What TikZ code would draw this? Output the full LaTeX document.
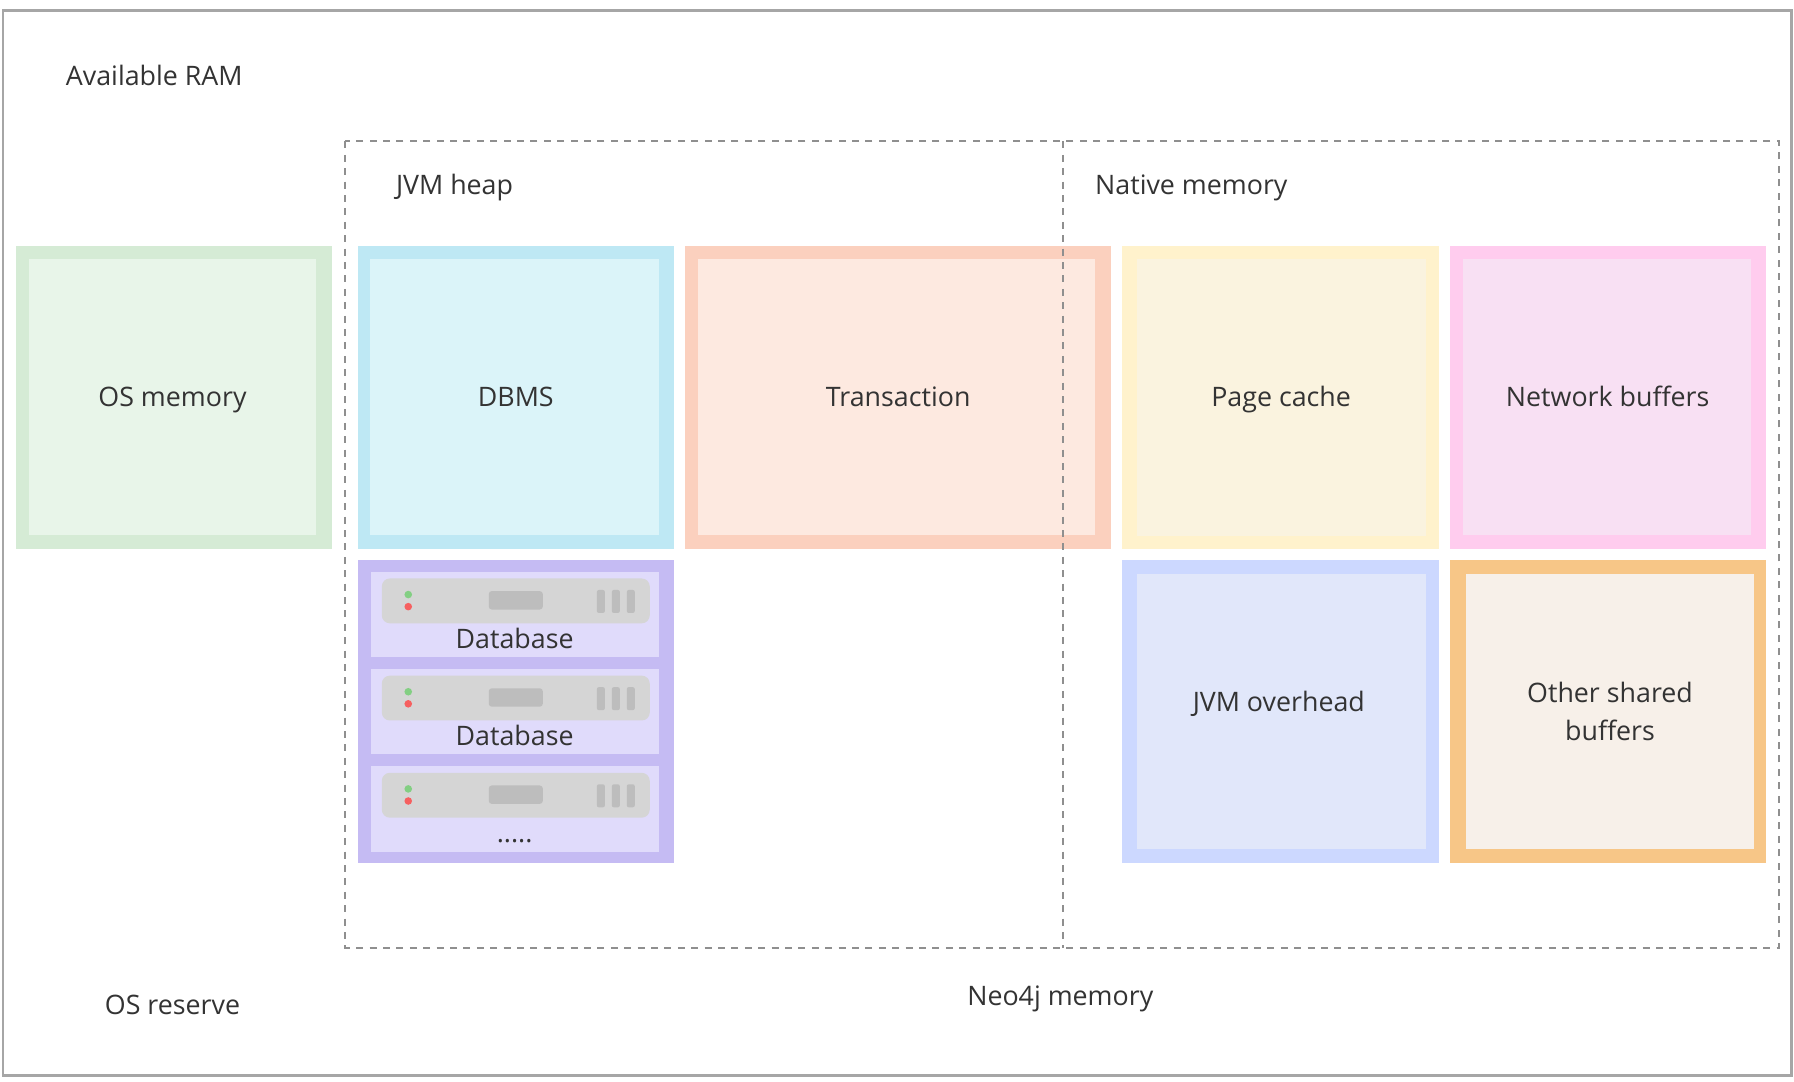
\documentclass[tikz,border=0pt]{standalone}
\usepackage{fontspec}
\setmainfont{Open Sans}
\definecolor{txt}{HTML}{333333}
\definecolor{framec}{HTML}{A6A6A6}
\definecolor{dashc}{HTML}{8F8F8F}
\tikzset{
  lbl/.style={text=txt,font=\fontsize{13.4}{19}\selectfont,inner sep=0pt,align=center,anchor=base},
  lblleft/.style={lbl,anchor=base west},
  frameline/.style={draw=framec,line width=1.3pt},
  dashline/.style={draw=dashc,line width=1pt,dash pattern=on 3.5pt off 3.2pt}
}
% outer colour, inner colour, outer box, inner box
\newcommand{\memblock}[6]{%
  \fill[#1] #3 rectangle #4;
  \fill[#2] #5 rectangle #6;
}
% server row with its top at y = #1 in the view
\newcommand{\serverrow}[1]{%
  \fill[HTML323] (323,#1) rectangle (573,#1+74.5);
  \fill[HTMLsrv,rounded corners=4pt] (332,#1+6) rectangle (565,#1+45);
  \fill[HTMLslot,rounded corners=1.5pt] (425,#1+17) rectangle (472,#1+33);
  \fill[HTMLslot,rounded corners=1pt] (519,#1+16) rectangle (526,#1+36);
  \fill[HTMLslot,rounded corners=1pt] (532,#1+16) rectangle (539,#1+36);
  \fill[HTMLslot,rounded corners=1pt] (545,#1+16) rectangle (552,#1+36);
  \fill[HTMLgreen] (355,#1+20) circle[radius=3.3];
  \fill[HTMLred] (355,#1+30.5) circle[radius=3.3];
}
\definecolor{HTML323}{HTML}{E0DBFB}
\definecolor{HTMLsrv}{HTML}{D5D5D5}
\definecolor{HTMLslot}{HTML}{BDBDBD}
\definecolor{HTMLgreen}{HTML}{83CF83}
\definecolor{HTMLred}{HTML}{F66060}
\definecolor{gO}{HTML}{D5EBD5}\definecolor{gI}{HTML}{E8F5E9}
\definecolor{bO}{HTML}{BEE8F4}\definecolor{bI}{HTML}{DBF4F9}
\definecolor{pO}{HTML}{FBD0BE}\definecolor{pI}{HTML}{FDE9E0}
\definecolor{yO}{HTML}{FFF2CC}\definecolor{yI}{HTML}{FAF3DF}
\definecolor{kO}{HTML}{FFCCEE}\definecolor{kI}{HTML}{F8E0F3}
\definecolor{lO}{HTML}{C5BBF3}\definecolor{lI}{HTML}{E0DBFB}
\definecolor{vO}{HTML}{CCD8FF}\definecolor{vI}{HTML}{E1E7FA}
\definecolor{oO}{HTML}{F7C687}\definecolor{oI}{HTML}{F7F0E9}
\begin{document}
\begin{tikzpicture}[x=0.575pt,y=-0.575pt]
\useasboundingbox (0,0) rectangle (1560,940);
\fill[white] (0,0) rectangle (1560,940);
\draw[frameline] (2.5,9) rectangle (1558,935);

\memblock{gO}{gI}{(14,214)}{(289,477)}{(25,225)}{(275,465)}
\memblock{bO}{bI}{(311,214)}{(586,477)}{(322,225)}{(573,465)}
\memblock{pO}{pI}{(596,214)}{(966,477)}{(607,225)}{(952,465)}
\memblock{yO}{yI}{(976,214)}{(1251,477)}{(989,225)}{(1240,466)}
\memblock{kO}{kI}{(1261,214)}{(1536,477)}{(1272,225)}{(1523,465)}
\memblock{lO}{lI}{(311,487)}{(586,750)}{(323,497)}{(573,571)}
\memblock{vO}{vI}{(976,487)}{(1251,750)}{(989,499)}{(1240,738)}
\memblock{oO}{oI}{(1261,487)}{(1536,750)}{(1275,499)}{(1525,738)}
\serverrow{497}
\serverrow{581.5}
\serverrow{666}

\draw[dashline] (300,123) rectangle (1547,824);
\draw[dashline] (924,123) -- (924,824);

\node[lblleft] (ram) at (57,74.5) {Available RAM};
\node[lblleft] (heap) at (344,169) {JVM heap};
\node[lblleft] (native) at (952,169) {Native memory};
\node[lbl] (os) at (150,353.5) {OS memory};
\node[lbl] (dbms) at (448.5,353.5) {DBMS};
\node[lbl] (tx) at (781,353.5) {Transaction};
\node[lbl] (page) at (1114,353.5) {Page cache};
\node[lbl] (net) at (1398,353.5) {Network buffers};
\node[lbl] (db1) at (447.5,564) {Database};
\node[lbl] (db2) at (447.5,648.5) {Database};
\node[lbl] (db3) at (447.5,733) {.....};
\node[lbl] (jvm) at (1112,619) {JVM overhead};
\node[lbl] (other) at (1400,644) {Other shared\\buffers};
\node[lbl] (reserve) at (150,882) {OS reserve};
\node[lbl] (neo) at (922,874) {Neo4j memory};
\end{tikzpicture}
\end{document}
